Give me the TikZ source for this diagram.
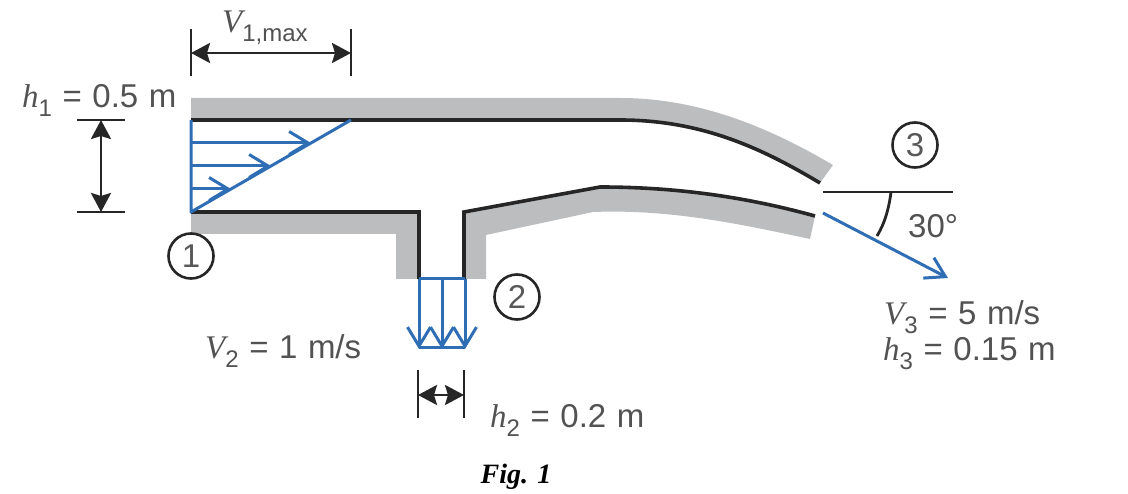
\documentclass[tikz,border=0pt]{standalone}
\usepackage{fontspec}
\setmainfont{Liberation Sans}
\newfontfamily\symfont{Liberation Serif}
\newfontfamily\figfont{Liberation Serif}
\usetikzlibrary{arrows.meta}
\newcommand{\qty}[2]{{\symfont\itshape #1}\raisebox{-0.26em}{\fontsize{24}{24}\selectfont #2}}
\newcommand{\gap}{\hspace{0.32em}}
\tikzset{
  wall/.style={fill=wallgray, draw=none},
  liner/.style={line width=3.6pt, draw=black!85},
  flow/.style={line width=3pt, draw=flowblue, line join=round},
  flowarrow/.style={flow, -{Straight Barb[length=19pt, width=23pt, line width=3pt]}},
  dimline/.style={line width=2.8pt, draw=black!85, {Stealth[length=19pt, width=20pt, inset=3pt]}-{Stealth[length=19pt, width=20pt, inset=3pt]}},
  dimtick/.style={line width=2.8pt, draw=black!85},
  lbl/.style={anchor=base west, inner sep=0pt, text=black!68, font=\fontsize{33}{33}\selectfont},
  station/.style={circle, draw=black!85, line width=2.6pt, minimum size=45pt, inner sep=0pt, text=black!65, font=\fontsize{33}{33}\selectfont}
}
\definecolor{wallgray}{HTML}{BCBDBF}
\definecolor{flowblue}{HTML}{2F6DB5}
\begin{document}
\begin{tikzpicture}[x=1pt, y=-1pt]
  \useasboundingbox (0,0) rectangle (1128,494);

  % Grey channel walls
  \fill[wall] (191,98) -- (620,98) .. controls (700,98) and (770,128) .. (833,165)
    -- (820,183) .. controls (760,147) and (700,120) .. (620,120) -- (191,120) -- cycle;
  \fill[wall] (191,212) -- (191,234) -- (396,234) -- (396,279) -- (486,279) -- (486,235)
    -- (593,212) .. controls (670,209) and (740,224) .. (810,239)
    -- (815,216) .. controls (750,198) and (680,187) .. (600,187)
    -- (464,212) -- (464,279) -- (419,279) -- (419,212) -- cycle;

  % Black inner lines of the channel
  \draw[liner] (191,120) -- (620,120) .. controls (700,120) and (760,147) .. (820,183);
  \draw[liner] (191,212) -- (419,212) -- (419,279);
  \draw[liner] (464,279) -- (464,212) -- (600,187)
    .. controls (680,187) and (750,198) .. (815,216);

  % Inlet velocity profile
  \coordinate (inTop) at (191,120);
  \coordinate (inBot) at (191,212);
  \coordinate (inMax) at (351,120);
  \draw[flow] (inTop) -- (inBot) -- (inMax);
  \draw[flowarrow] (191,143) -- (311,143);
  \draw[flowarrow] (191,166) -- (271,166);
  \draw[flowarrow] (191,189) -- (231,189);

  % Branch outlet profile
  \draw[flow] (419,279) -- (465,279);
  \draw[flow] (419,348) -- (465,348);
  \draw[flowarrow] (419,279) -- (419,349);
  \draw[flowarrow] (442,279) -- (442,349);
  \draw[flowarrow] (465,279) -- (465,349);

  % Main outlet
  \coordinate (outStart) at (823,213);
  \coordinate (outEnd) at (948,278);
  \draw[flowarrow] (outStart) -- (outEnd);
  \coordinate (refLeft) at (823,192);
  \coordinate (refRight) at (953,192);
  \draw[dimtick] (refLeft) -- (refRight);
  \draw[dimtick] (891,192) .. controls (889,208) and (885,223) .. (877,236);

  % Dimension for the maximum velocity
  \coordinate (vL) at (191,53);
  \coordinate (vR) at (351,53);
  \draw[dimtick] (191,29) -- (191,76);
  \draw[dimtick] (351,29) -- (351,76);
  \draw[dimline] (vL) -- (vR);

  % Dimension for the inlet height
  \coordinate (hT) at (101,120);
  \coordinate (hB) at (101,212);
  \draw[dimtick] (77,120) -- (125,120);
  \draw[dimtick] (77,212) -- (125,212);
  \draw[dimline] (hT) -- (hB);

  % Dimension for the branch width
  \coordinate (wL) at (418,395);
  \coordinate (wR) at (464,395);
  \draw[dimtick] (418,370) -- (418,418);
  \draw[dimtick] (464,370) -- (464,418);
  \draw[dimline] (wL) -- (wR);

  % Station numbers
  \node[station] (st1) at (191,256) {1};
  \node[station] (st2) at (517,297) {2};
  \node[station] (st3) at (915,145) {3};

  % Text
  \node[lbl] (vmax) at (222,33) {\qty{V}{1,max}};
  \node[lbl] (hone) at (22,108) {\qty{h}{1}\gap=\gap0.5\gap m};
  \node[lbl] (vtwo) at (205,359) {\qty{V}{2}\gap=\gap1\gap m/s};
  \node[lbl] (htwo) at (490,428) {\qty{h}{2}\gap=\gap0.2\gap m};
  \node[lbl] (vthree) at (884,325) {\qty{V}{3}\gap=\gap5\gap m/s};
  \node[lbl] (hthree) at (883,361) {\qty{h}{3}\gap=\gap0.15\gap m};
  \node[lbl] (angle) at (908,238) {30°};
  \node[inner sep=0pt, font=\figfont\bfseries\itshape\fontsize{28}{28}\selectfont] (figlabel) at (516,477) {Fig. 1};
\end{tikzpicture}
\end{document}
